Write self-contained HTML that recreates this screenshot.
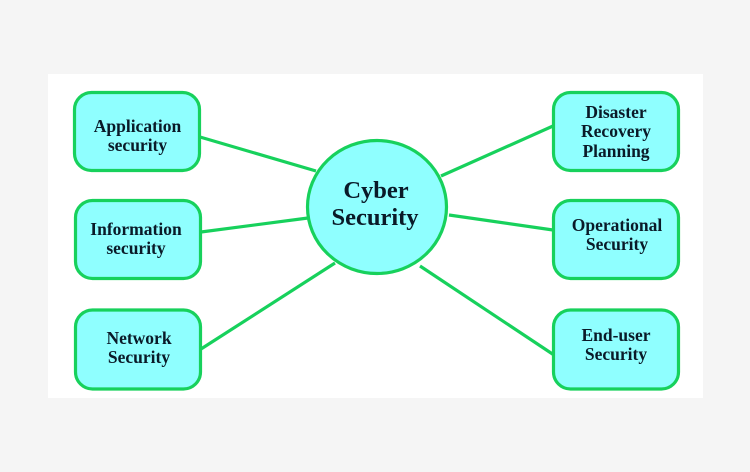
<!DOCTYPE html>
<html><head><meta charset="utf-8"><style>
html,body{margin:0;padding:0;width:750px;height:472px;overflow:hidden;background:#f5f5f5}
svg{display:block}
text{font-family:"Liberation Serif",serif;font-weight:bold;fill:#0a1a28;text-anchor:middle;font-size:17.5px}
.r{fill:#8fffff;stroke:#17d15c;stroke-width:3.2}
.l{stroke:#17d15c;stroke-width:3.2;fill:none}
</style></head><body>
<svg width="750" height="472" viewBox="0 0 750 472" xmlns="http://www.w3.org/2000/svg">
<rect x="48" y="74" width="655" height="324" fill="#fff"/>
<line class="l" x1="200" y1="137" x2="316" y2="171"/>
<line class="l" x1="201" y1="232" x2="308" y2="218"/>
<line class="l" x1="201" y1="349" x2="335" y2="263"/>
<line class="l" x1="441" y1="176" x2="553" y2="126"/>
<line class="l" x1="449" y1="215" x2="553" y2="230"/>
<line class="l" x1="420" y1="266" x2="554" y2="355"/>
<rect class="r" x="74.500" y="92.500" width="125" height="78" rx="17"/>
<rect class="r" x="75.500" y="200.500" width="125" height="78" rx="17"/>
<rect class="r" x="75.500" y="310" width="125" height="79" rx="17"/>
<rect class="r" x="553.500" y="92.500" width="125" height="78" rx="17"/>
<rect class="r" x="553.500" y="200.500" width="125" height="78" rx="17"/>
<rect class="r" x="553.500" y="310" width="125" height="79" rx="17"/>
<ellipse class="r" cx="377" cy="207" rx="69.500" ry="66.500" stroke-width="3.500"/>
<text x="137.500" y="132">Application</text><text x="137.500" y="151">security</text>
<text x="136" y="235">Information</text><text x="136" y="254">security</text>
<text x="139" y="344">Network</text><text x="139" y="363">Security</text>
<text x="616" y="118">Disaster</text><text x="616" y="137">Recovery</text><text x="616" y="157">Planning</text>
<text x="617" y="231">Operational</text><text x="617" y="250">Security</text>
<text x="616" y="341">End-user</text><text x="616" y="360">Security</text>
<text x="376" y="198" style="font-size:24.5px">Cyber</text>
<text x="375" y="225" style="font-size:24.5px">Security</text>
</svg>
</body></html>
